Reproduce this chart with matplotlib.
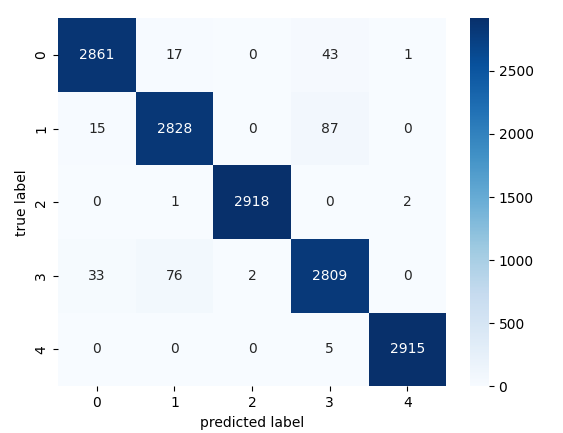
import matplotlib
matplotlib.use("Agg")
import matplotlib.pyplot as plt
import seaborn as sns
import numpy as np

labels = [0, 1, 2, 3, 4]
row0 = [2861, 17, 0, 43, 1]
row1 = [15, 2828, 0, 87, 0]
row2 = [0, 1, 2918, 0, 2]
row3 = [33, 76, 2, 2809, 0]
row4 = [0, 0, 0, 5, 2915]

cm = np.array([row0, row1, row2, row3, row4])

fig = plt.figure(figsize=(5.63, 4.33), dpi=100)
fig.subplots_adjust(left=0.103, right=0.965, bottom=0.108, top=0.958)
ax = sns.heatmap(cm, annot=True, fmt="d", cmap="Blues",
                 xticklabels=labels, yticklabels=labels)
ax.set_xlabel("predicted label")
ax.set_ylabel("true label")
plt.savefig("out.png", dpi=100)
